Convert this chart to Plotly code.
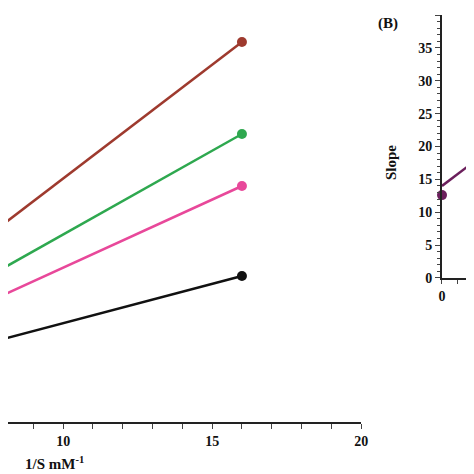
import plotly.graph_objects as go

# Panel A: 1/S vs 1/v lines (visible part)
series_names = ["brown", "green", "pink", "black"]
colors = ["#9e3a2e", "#2ea84f", "#e8489a", "#111111"]
line_x = [8, 16]
line_y = [[19.8, 38.0], [15.4, 28.8], [12.7, 23.6], [8.3, 14.6]]
point_x = [16, 16, 16, 16]
point_y = [38.0, 28.8, 23.6, 14.6]

# Panel B: slope replot
b_point_x = [0]
b_point_y = [12.6]
b_line_x = [0, 1.5]
b_line_y = [14.0, 19.2]

fig = go.Figure()
for i, n in enumerate(series_names):
    fig.add_trace(go.Scatter(x=line_x, y=line_y[i], mode="lines",
                             line=dict(color=colors[i], width=2.5), xaxis="x", yaxis="y", showlegend=False))
    fig.add_trace(go.Scatter(x=[point_x[i]], y=[point_y[i]], mode="markers",
                             marker=dict(color=colors[i], size=10), xaxis="x", yaxis="y", showlegend=False))
fig.add_trace(go.Scatter(x=b_line_x, y=b_line_y, mode="lines", line=dict(color="#6b1f5c", width=2.5),
                         xaxis="x2", yaxis="y2", showlegend=False, cliponaxis=False))
fig.add_trace(go.Scatter(x=b_point_x, y=b_point_y, mode="markers", marker=dict(color="#6b1f5c", size=10),
                         xaxis="x2", yaxis="y2", showlegend=False, cliponaxis=False))

tf = dict(family="Liberation Serif", size=14, color="#111", weight="bold")
fig.update_layout(
    width=474, height=474, margin=dict(l=0, r=0, t=0, b=60, pad=0, autoexpand=False),
    plot_bgcolor="white", paper_bgcolor="white", font=dict(family="Liberation Serif", size=14, color="#111"),
    xaxis=dict(domain=[0, 0.745], range=[8.15, 20], tickvals=[10, 15, 20], ticks="outside", ticklen=5,
               minor=dict(dtick=1, ticks="outside", ticklen=5), showline=True, linecolor="#222", linewidth=2,
               showgrid=False, zeroline=False, tickfont=tf, automargin=False),
    yaxis=dict(domain=[0, 1], range=[0, 41.4], visible=False, automargin=False),
    xaxis2=dict(domain=[0.9156, 1], range=[0, 1.33], anchor="y2", tickvals=[0], ticks="outside", ticklen=4,
                minor=dict(dtick=0.5, ticks="outside", ticklen=4), showline=True, linecolor="#222", linewidth=2,
                showgrid=False, zeroline=False, tickfont=tf, automargin=False),
    yaxis2=dict(domain=[0.348, 0.983], range=[0, 40], anchor="x2", dtick=5, ticks="outside", ticklen=5,
                minor=dict(dtick=1, ticks="outside", ticklen=3), showline=True, linecolor="#222", linewidth=2,
                showgrid=False, zeroline=False, tickfont=tf, automargin=False),
)
fig.add_annotation(text="<b>1/S mM<sup>-1</sup></b>", x=15, y=455, showarrow=False, xanchor="left",
                   yanchor="middle", font=dict(family="Liberation Serif", size=15, color="#111"))
fig.add_annotation(text="<b>(B)</b>", x=368, y=15, showarrow=False, xanchor="left", yanchor="middle",
                   font=dict(family="Liberation Serif", size=15, color="#111"))
fig.add_annotation(text="<b>Slope</b>", x=393, y=155, showarrow=False, textangle=-90,
                   font=dict(family="Liberation Serif", size=15, color="#111"))
for a in fig.layout.annotations:
    a.xref = "paper"; a.yref = "paper"
    a.x = a.x / 474
    a.y = (414 - a.y) / 414
fig.write_html("out.html")
